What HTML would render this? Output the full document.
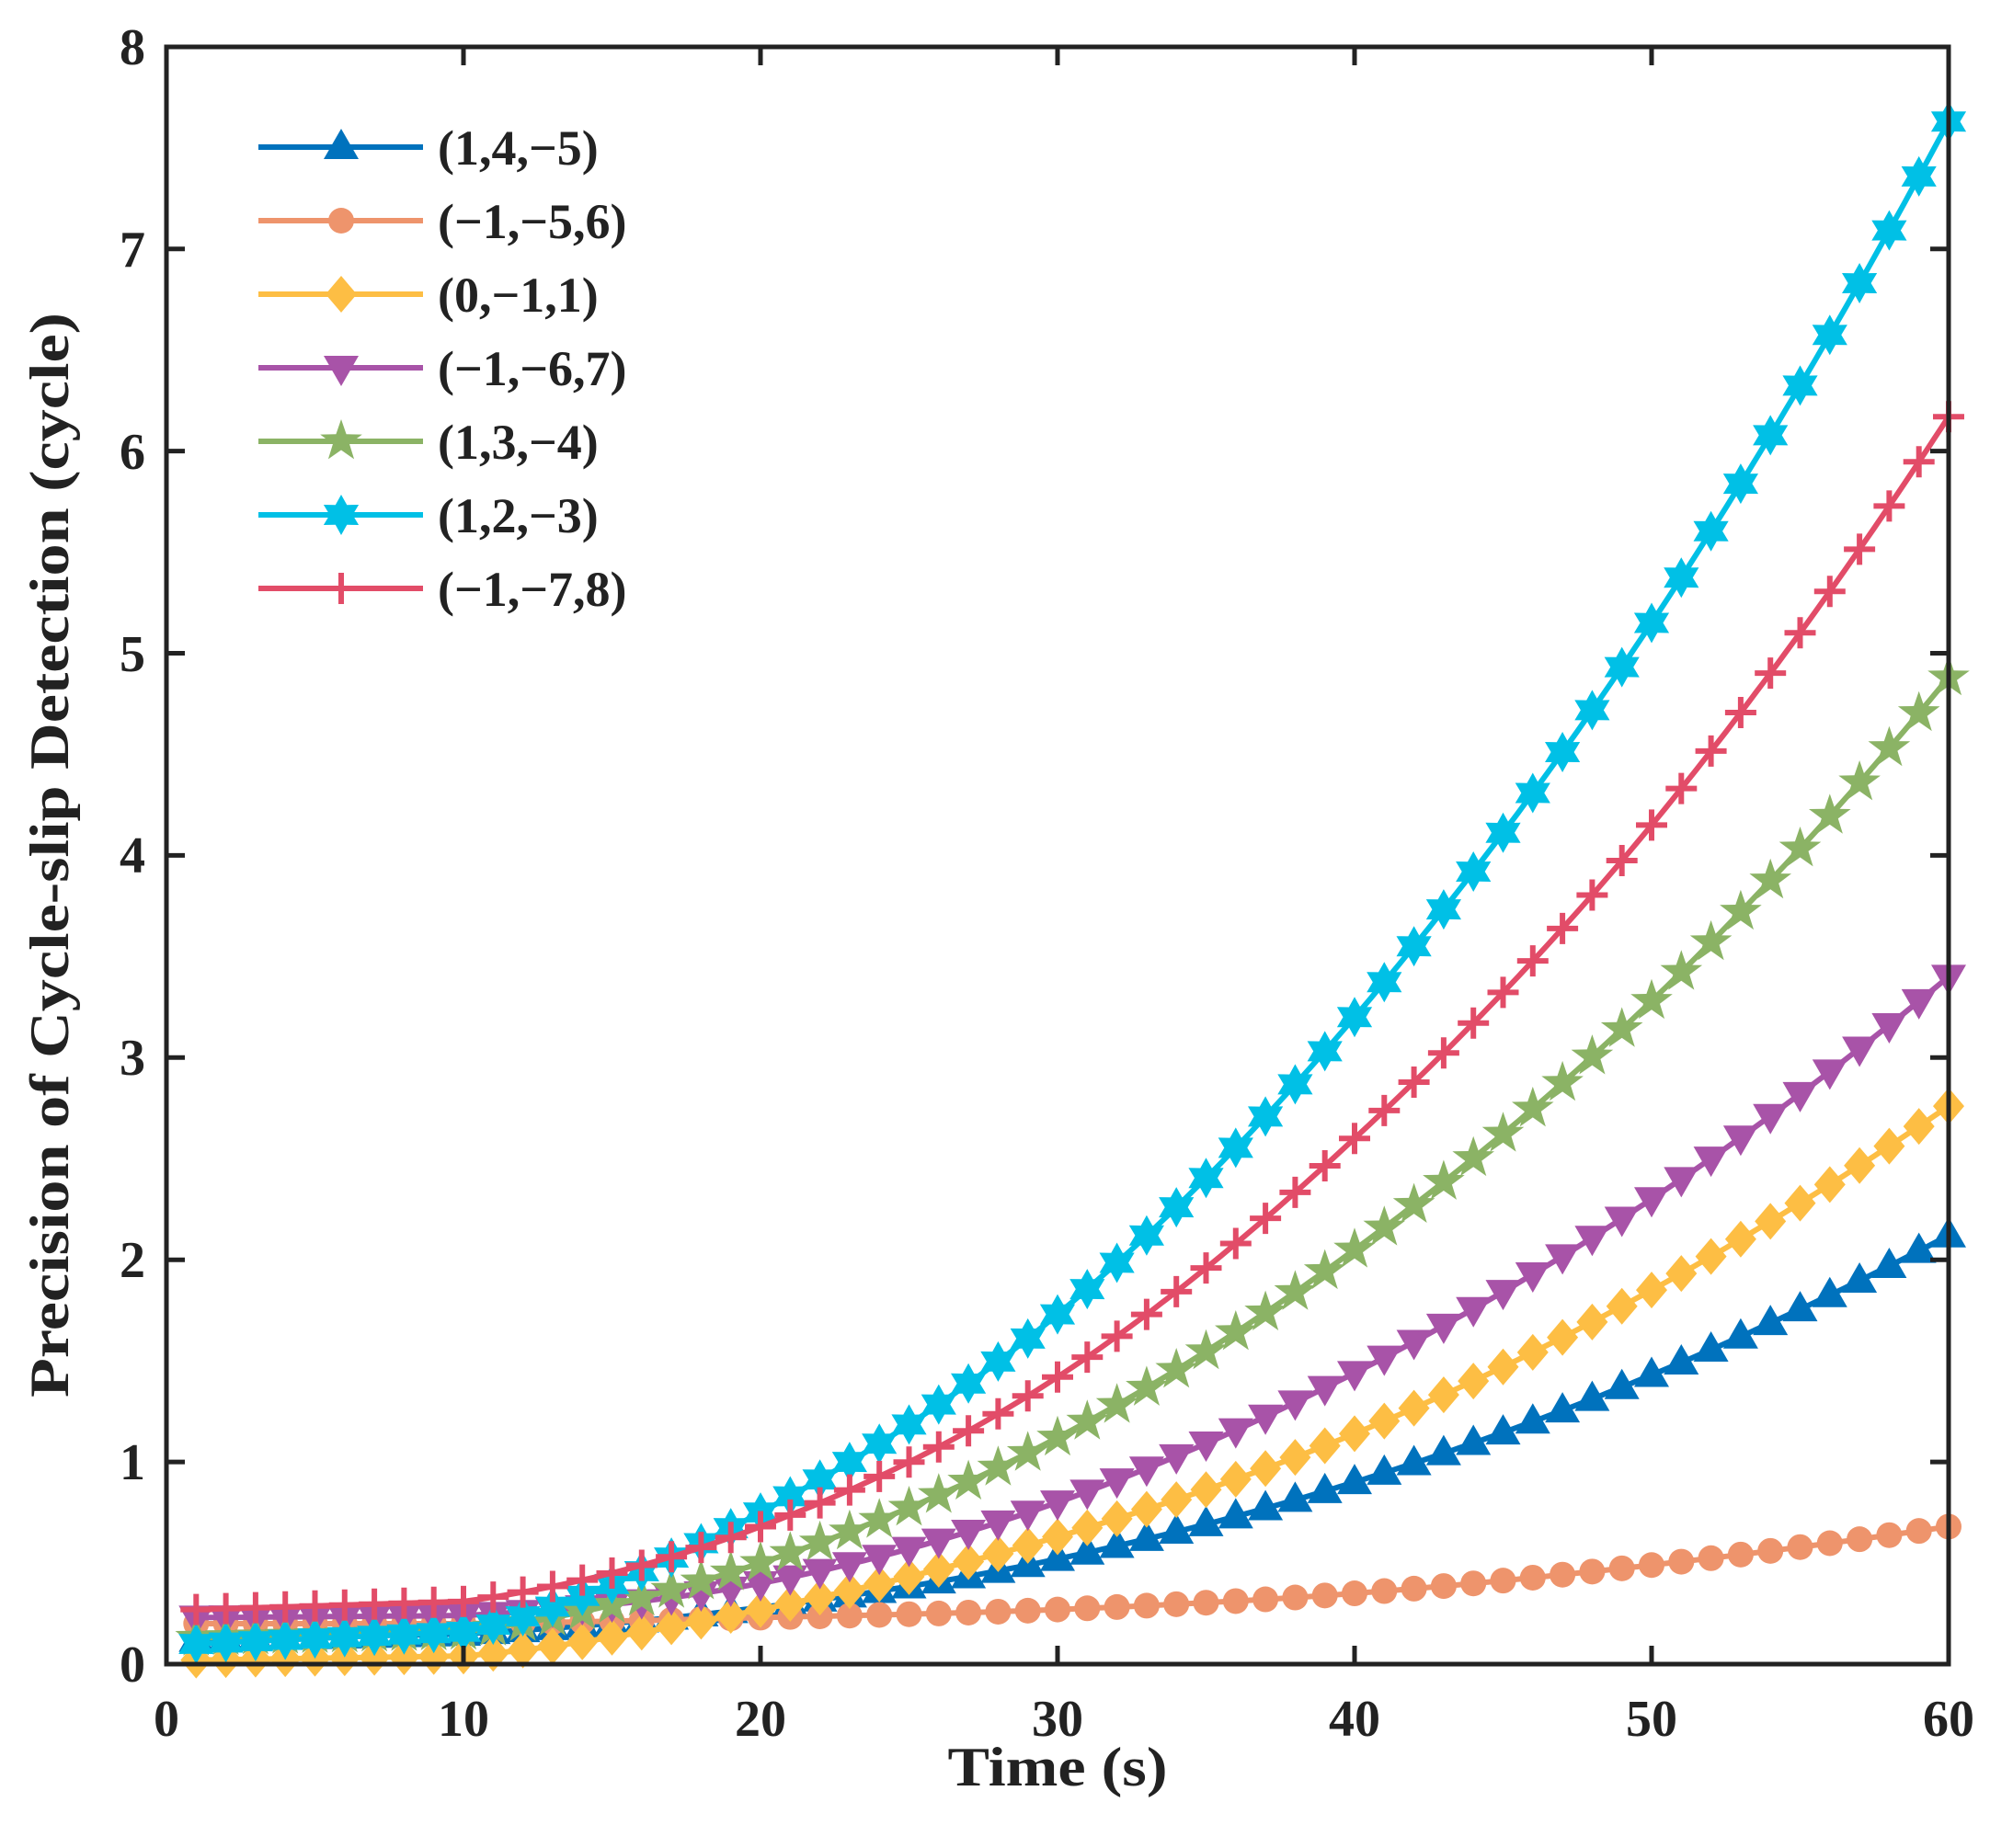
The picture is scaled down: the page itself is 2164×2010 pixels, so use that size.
<!DOCTYPE html>
<html><head><meta charset="utf-8"><style>html,body{margin:0;padding:0;background:#fff}svg{display:block}text{font-family:"Liberation Serif",serif;font-weight:bold;fill:#222}</style></head>
<body>
<svg id="s" width="2164" height="2010" viewBox="0 0 2164 2010" xmlns="http://www.w3.org/2000/svg">
<g id="plot"></g>
<rect x="181" y="51" width="1938" height="1759" fill="none" stroke="#222" stroke-width="5"/>
<g id="ticks" stroke="#222" stroke-width="5"></g>
<g font-size="56" text-anchor="middle">
<text x="181" y="1888">0</text><text x="504" y="1888">10</text><text x="827" y="1888">20</text><text x="1150" y="1888">30</text><text x="1473" y="1888">40</text><text x="1796" y="1888">50</text><text x="2119" y="1888">60</text>
</g>
<g font-size="56" text-anchor="end">
<text x="158" y="1829">0</text><text x="158" y="1609">1</text><text x="158" y="1389">2</text><text x="158" y="1169">3</text><text x="158" y="949">4</text><text x="158" y="730">5</text><text x="158" y="510">6</text><text x="158" y="290">7</text><text x="158" y="70">8</text>
</g>
<text x="1150" y="1942" font-size="60" text-anchor="middle" textLength="239" lengthAdjust="spacingAndGlyphs">Time (s)</text>
<text transform="translate(74,930) rotate(-90)" font-size="60" text-anchor="middle" textLength="1180" lengthAdjust="spacingAndGlyphs">Precision of Cycle-slip Detection (cycle)</text>
<g id="leg"></g>
</svg>
<script>
const X=t=>181+t*1938/60, Y=v=>1810-v*219.9;
const ns="http://www.w3.org/2000/svg";
function el(p,tag,a){const e=document.createElementNS(ns,tag);for(const k in a)e.setAttribute(k,a[k]);p.appendChild(e);return e;}
const tk=document.getElementById('ticks');
for(let i=1;i<6;i++){const x=X(i*10);el(tk,'line',{x1:x,y1:1810,x2:x,y2:1790});el(tk,'line',{x1:x,y1:51,x2:x,y2:71});}
for(let i=1;i<8;i++){const y=Y(i);el(tk,'line',{x1:181,y1:y,x2:201,y2:y});el(tk,'line',{x1:2119,y1:y,x2:2099,y2:y});}
const K=[1,10,20,30,40,50,60];
const S=[
{n:'(1,4,\u22125)',c:'#0072BD',m:'tri',v:[0.12,0.15,0.28,0.52,0.9,1.43,2.12]},
{n:'(\u22121,\u22125,6)',c:'#EE946C',m:'circ',v:[0.2,0.2,0.23,0.27,0.35,0.49,0.68]},
{n:'(0,\u22121,1)',c:'#FDBE44',m:'dia',v:[0.02,0.04,0.27,0.63,1.14,1.85,2.76]},
{n:'(\u22121,\u22126,7)',c:'#A853A8',m:'tri2',v:[0.23,0.24,0.4,0.8,1.44,2.3,3.4]},
{n:'(1,3,\u22124)',c:'#8BB365',m:'star',v:[0.13,0.16,0.5,1.12,2.05,3.28,4.88]},
{n:'(1,2,\u22123)',c:'#00C0E6',m:'hex',v:[0.1,0.16,0.75,1.73,3.2,5.15,7.63]},
{n:'(\u22121,\u22127,8)',c:'#E24C68',m:'plus',v:[0.27,0.31,0.68,1.42,2.6,4.15,6.17]}];
function lag(v,j,t){const a=K[j],b=K[j+1],c=K[j+2];
 return v[j]*(t-b)*(t-c)/((a-b)*(a-c))+v[j+1]*(t-a)*(t-c)/((b-a)*(b-c))+v[j+2]*(t-a)*(t-b)/((c-a)*(c-b));}
function interp(v,t){let i=0;while(i<K.length-2&&t>K[i+1])i++;
 if(i==0){const u=(t-K[0])/(K[1]-K[0]);return v[0]+(v[1]-v[0])*u;}
 const q1=lag(v,i-1,t); if(i+2>=K.length)return q1;
 const q2=lag(v,i,t);const u=(t-K[i])/(K[i+1]-K[i]);return q1*(1-u)+q2*u;}
function star(cx,cy,n,ro,ri,rot){let p=[];for(let i=0;i<2*n;i++){const r=i%2?ri:ro,a=rot+i*Math.PI/n;p.push((cx+r*Math.sin(a)).toFixed(1)+','+(cy-r*Math.cos(a)).toFixed(1));}return p.join(' ');}
function mark(g,m,x,y,c){
 if(m=='tri')el(g,'polygon',{points:`${x},${y-20} ${x+19},${y+13} ${x-19},${y+13}`,fill:c});
 else if(m=='tri2')el(g,'polygon',{points:`${x},${y+20} ${x+19},${y-13} ${x-19},${y-13}`,fill:c});
 else if(m=='circ')el(g,'circle',{cx:x,cy:y,r:14,fill:c});
 else if(m=='dia')el(g,'polygon',{points:`${x},${y-20} ${x+17},${y} ${x},${y+20} ${x-17},${y}`,fill:c});
 else if(m=='star')el(g,'polygon',{points:star(x,y,5,24,9.5,0),fill:c});
 else if(m=='hex')el(g,'polygon',{points:star(x,y,6,22,12.5,0),fill:c});
 else if(m=='plus'){el(g,'line',{x1:x-17,y1:y,x2:x+17,y2:y,stroke:c,'stroke-width':6});el(g,'line',{x1:x,y1:y-17,x2:x,y2:y+17,stroke:c,'stroke-width':6});}
}
const pg=document.getElementById('plot'),lg=document.getElementById('leg');
S.forEach((s,k)=>{
 const g=el(pg,'g',{});let d='';
 for(let t=1;t<=60;t+=0.25){d+=(t==1?'M':'L')+X(t).toFixed(1)+','+Y(interp(s.v,t)).toFixed(1);}
 el(g,'path',{d:d,fill:'none',stroke:s.c,'stroke-width':6});
 for(let t=1;t<=60;t++)mark(g,s.m,X(t),Y(interp(s.v,t)),s.c);
 const y=160+k*80;
 el(lg,'line',{x1:281,y1:y,x2:460,y2:y,stroke:s.c,'stroke-width':6});
 mark(lg,s.m,371,y,s.c);
 const tx=el(lg,'text',{x:476,y:y+19,'font-size':54});tx.textContent=s.n;
});
</script>
</body></html>
